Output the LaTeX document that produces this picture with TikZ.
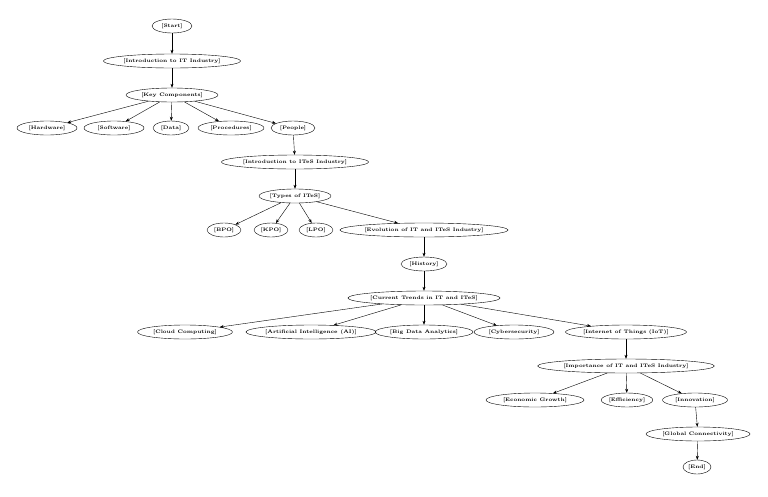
\documentclass[tikz,border=0pt]{standalone}
\usetikzlibrary{shapes.geometric,arrows.meta}
\tikzset{
  topic/.style={draw, ellipse, thin, inner sep=0pt, minimum height=14pt, font=\fontsize{5}{6}\selectfont\bfseries},
  link/.style={-{Stealth[length=4pt,width=3pt]}, thin}
}
\begin{document}
\begin{tikzpicture}[x=1pt,y=-1pt]
    \useasboundingbox (0,0) rectangle (768,496);

    % top
    \node [topic, minimum width=40pt] (start) at (172,26) {[Start]};
    \node [topic, minimum width=136pt] (introit) at (172,61) {[Introduction to IT Industry]};
    \node [topic, minimum width=92pt] (keycomp) at (172,95) {[Key Components]};

    % components
    \node [topic, minimum width=60pt] (hardware) at (47,128) {[Hardware]};
    \node [topic, minimum width=60pt] (software) at (114,128) {[Software]};
    \node [topic, minimum width=36pt] (data) at (171,128) {[Data]};
    \node [topic, minimum width=66pt] (procedures) at (231,128) {[Procedures]};
    \node [topic, minimum width=44pt] (people) at (293,128) {[People]};

    % ITeS
    \node [topic, minimum width=146pt] (introites) at (295,162) {[Introduction to ITeS Industry]};
    \node [topic, minimum width=72pt] (types) at (295,196) {[Types of ITeS]};
    \node [topic, minimum width=34pt] (bpo) at (224,230) {[BPO]};
    \node [topic, minimum width=34pt] (kpo) at (271,230) {[KPO]};
    \node [topic, minimum width=34pt] (lpo) at (316,230) {[LPO]};
    \node [topic, minimum width=160pt] (evolution) at (424,230) {[Evolution of IT and ITeS Industry]};
    \node [topic, minimum width=46pt] (history) at (424,264) {[History]};

    % trends
    \node [topic, minimum width=150pt] (trends) at (424,298) {[Current Trends in IT and ITeS]};
    \node [topic, minimum width=95pt] (cloud) at (185,332) {[Cloud Computing]};
    \node [topic, minimum width=130pt] (ai) at (311,332) {[Artificial Intelligence (AI)]};
    \node [topic, minimum width=98pt] (bigdata) at (424,332) {[Big Data Analytics]};
    \node [topic, minimum width=80pt] (cyber) at (514,332) {[Cybersecurity]};
    \node [topic, minimum width=115pt] (iot) at (626,332) {[Internet of Things (IoT)]};

    % importance
    \node [topic, minimum width=170pt] (importance) at (626,366) {[Importance of IT and ITeS Industry]};
    \node [topic, minimum width=98pt] (growth) at (535,400) {[Economic Growth]};
    \node [topic, minimum width=50pt] (efficiency) at (627,400) {[Efficiency]};
    \node [topic, minimum width=65pt] (innovation) at (695,400) {[Innovation]};
    \node [topic, minimum width=104pt] (global) at (698,434) {[Global Connectivity]};
    \node [topic, minimum width=28pt] (end) at (697,467) {[End]};

    % links
    \draw [link] (start) -- (introit);
    \draw [link] (introit) -- (keycomp);
    \foreach \n in {hardware,software,data,procedures,people}
        \draw [link] (keycomp) -- (\n);
    \draw [link] (people) -- (introites);
    \draw [link] (introites) -- (types);
    \foreach \n in {bpo,kpo,lpo,evolution}
        \draw [link] (types) -- (\n);
    \draw [link] (evolution) -- (history);
    \draw [link] (history) -- (trends);
    \foreach \n in {cloud,ai,bigdata,cyber,iot}
        \draw [link] (trends) -- (\n);
    \draw [link] (iot) -- (importance);
    \foreach \n in {growth,efficiency,innovation}
        \draw [link] (importance) -- (\n);
    \draw [link] (innovation) -- (global);
    \draw [link] (global) -- (end);

\end{tikzpicture}
\end{document}
